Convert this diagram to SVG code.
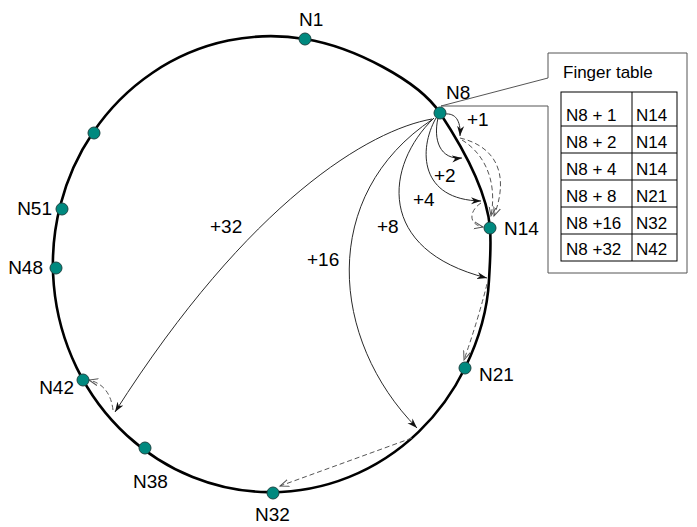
<svg xmlns="http://www.w3.org/2000/svg" width="697" height="527" viewBox="0 0 697 527">
<style>
.ring{fill:none;stroke:#000;stroke-width:2.6}
.node{fill:#00897f;stroke:#1c4644;stroke-width:1}
.lbl{font-family:"Liberation Sans",Arial,sans-serif;font-size:19px;fill:#000}
.tt{font-family:"Liberation Sans",Arial,sans-serif;font-size:17px;fill:#000}
.sol{fill:none;stroke:#2a2a2a;stroke-width:1;marker-end:url(#ah)}
.dash{fill:none;stroke:#555;stroke-width:1;stroke-dasharray:5,3;marker-end:url(#oh)}
.grid{fill:none;stroke:#000;stroke-width:1}
</style>
<defs>
<marker id="ah" markerUnits="userSpaceOnUse" markerWidth="11" markerHeight="8" refX="10" refY="4" orient="auto">
<path d="M0,0.5 L10,4 L0,7.5 L3,4 z" fill="#111"/>
</marker>
<marker id="oh" markerUnits="userSpaceOnUse" markerWidth="11" markerHeight="9" refX="9" refY="4.5" orient="auto">
<path d="M0,1 L9,4.5 L0,8" fill="none" stroke="#555" stroke-width="1"/>
</marker>
</defs>
<rect width="697" height="527" fill="#fff"/>
<path class="ring" d="M305,39 C354,47 419,81 440,113 C459.3,142.2 486.8,188 490,228 C491.4,245 489.9,263 489,280 C487.5,310 478.2,341 465,368 A218,228 0 1 1 305,39 Z"/>
<g id="finger-table">
<path d="M548,78 L548,53 L687,53 L687,273 L548,273 L548,106 L441,106 L548,78" fill="none" stroke="#555" stroke-width="1"/>
<text class="tt" x="563" y="78">Finger table</text>
<rect class="grid" x="561" y="92" width="116" height="169"/>
<path class="grid" d="M632,92 V261 M561,126 H677 M561,153 H677 M561,180 H677 M561,207 H677 M561,234 H677"/>
<text class="tt" x="566" y="121">N8 + 1</text><text class="tt" x="636" y="121">N14</text>
<text class="tt" x="566" y="148">N8 + 2</text><text class="tt" x="636" y="148">N14</text>
<text class="tt" x="566" y="175">N8 + 4</text><text class="tt" x="636" y="175">N14</text>
<text class="tt" x="566" y="202">N8 + 8</text><text class="tt" x="636" y="202">N21</text>
<text class="tt" x="566" y="229">N8 +16</text><text class="tt" x="636" y="229">N32</text>
<text class="tt" x="566" y="255">N8 +32</text><text class="tt" x="636" y="255">N42</text>
</g>
<g id="connectors">
<path class="sol" d="M445,114 C455,113 461,120 460,136"/>
<path class="sol" d="M438,118 C433,140 440,160 462,158"/>
<path class="sol" d="M436,118 C418,150 420,200 481,201"/>
<path class="sol" d="M434,118 C385,165 375,250 487,278"/>
<path class="sol" d="M433,119 C318,195 330,340 417,428"/>
<path class="sol" d="M432,119 C370,130 250,200 115,412"/>
<path class="dash" d="M460,138 C490,145 512,168 494,216"/>
<path class="dash" d="M462,140 C482,152 498,178 491,216"/>
<path class="dash" d="M481,203 C470,210 467,224 483,227"/>
<path class="dash" d="M487,284 Q478,320 464,360"/>
<path class="dash" d="M412,438 L280,486"/>
<path class="dash" d="M113,410 Q110,385 89,380"/>
<text class="lbl" x="467" y="126">+1</text>
<text class="lbl" x="434" y="182">+2</text>
<text class="lbl" x="413" y="206">+4</text>
<text class="lbl" x="377" y="233">+8</text>
<text class="lbl" x="307" y="266">+16</text>
<text class="lbl" x="210" y="233">+32</text>
</g>
<g id="N1"><circle class="node" cx="305" cy="39" r="6"/><text class="lbl" x="299" y="26">N1</text></g>
<g id="N8"><circle class="node" cx="440" cy="113" r="6"/><text class="lbl" x="446" y="99">N8</text></g>
<g id="N14"><circle class="node" cx="490" cy="228" r="6"/><text class="lbl" x="504" y="235">N14</text></g>
<g id="N21"><circle class="node" cx="465" cy="368" r="6"/><text class="lbl" x="479" y="381">N21</text></g>
<g id="N32"><circle class="node" cx="273" cy="493" r="6"/><text class="lbl" x="255" y="521">N32</text></g>
<g id="N38"><circle class="node" cx="145" cy="448" r="6"/><text class="lbl" x="133" y="488">N38</text></g>
<g id="N42"><circle class="node" cx="83" cy="380" r="6"/><text class="lbl" x="74" y="394" text-anchor="end">N42</text></g>
<g id="N48"><circle class="node" cx="56" cy="268" r="6"/><text class="lbl" x="43" y="274" text-anchor="end">N48</text></g>
<g id="N51"><circle class="node" cx="62" cy="209" r="6"/><text class="lbl" x="52" y="215" text-anchor="end">N51</text></g>
<g id="N56"><circle class="node" cx="94" cy="133" r="6"/></g>
</svg>
